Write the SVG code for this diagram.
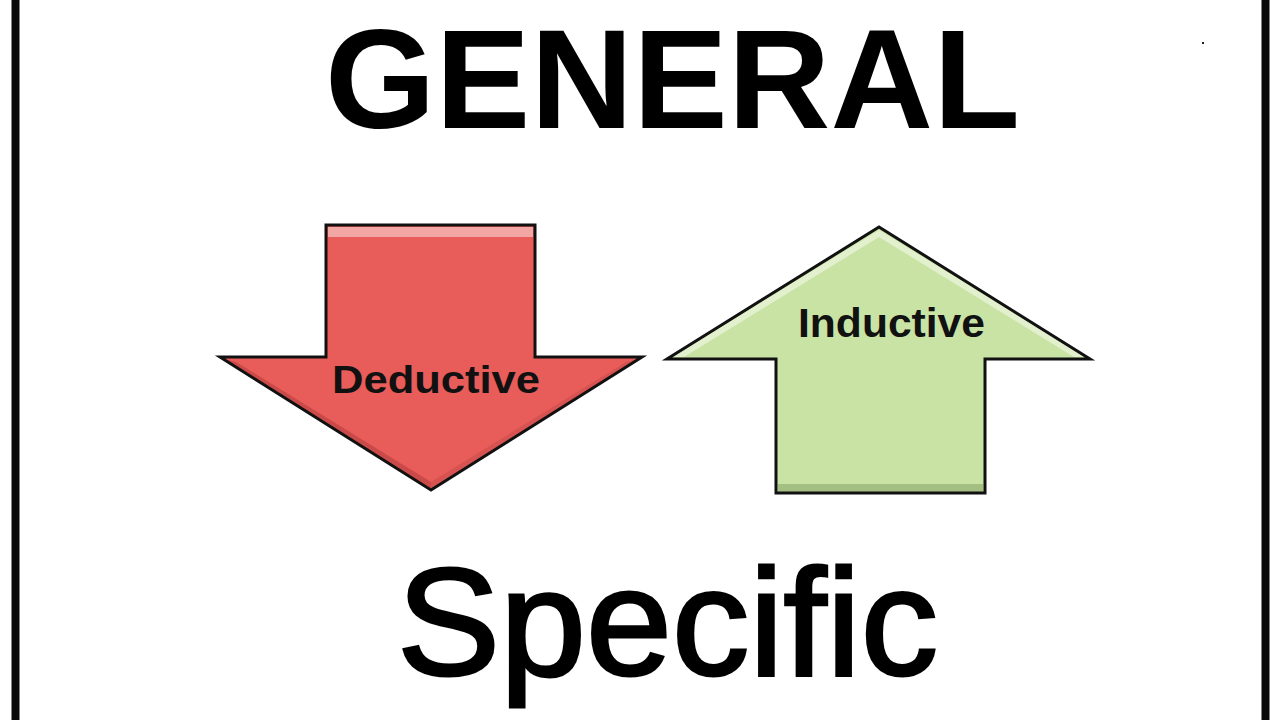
<svg xmlns="http://www.w3.org/2000/svg" width="1280" height="720" viewBox="0 0 1280 720">
  <style>
    .title { font-family: "Liberation Sans", Arial, sans-serif; fill: #000; }
    .label { font-family: "Liberation Sans", Arial, sans-serif; font-weight: 700; fill: #111; }
    .outline { stroke: #111; stroke-width: 3; stroke-linejoin: miter; }
    .border { stroke: #0a0a0a; stroke-width: 8; }
  </style>
  <rect x="0" y="0" width="1280" height="720" fill="#ffffff"/>

  <g id="frame">
    <line class="border" x1="15.5" y1="0" x2="15.5" y2="720"/>
    <line class="border" x1="1265.5" y1="0" x2="1265.5" y2="720"/>
    <rect x="1202" y="42" width="2" height="2" fill="#222"/>
  </g>

  <g id="general">
    <text class="title" x="325" y="127.5" font-size="141" font-weight="700" textLength="695" lengthAdjust="spacingAndGlyphs">GENERAL</text>
  </g>

  <g id="deductive">
    <polygon points="326,225 535,225 535,357 642,357 431,490 220,357 326,357" fill="#E85C5A"/>
    <rect x="328" y="227" width="205" height="10" fill="#F3A7A5"/>
    <polygon points="224,359 431,488 431,482 236,362" fill="#C94A48"/>
    <polygon points="638,359 431,488 431,482 626,362" fill="#D65352"/>
    <polygon class="outline" points="326,225 535,225 535,357 642,357 431,490 220,357 326,357" fill="none"/>
    <text class="label" x="332" y="393" font-size="39" textLength="208" lengthAdjust="spacingAndGlyphs">Deductive</text>
  </g>

  <g id="inductive">
    <polygon points="879,227 1090,359 985,359 985,493 776,493 776,359 667,359" fill="#C9E3A5"/>
    <polygon points="879,230 672,357 684,357 879,237" fill="#E2F0CE"/>
    <polygon points="879,230 1086,357 1074,357 879,237" fill="#E2F0CE"/>
    <rect x="778" y="484" width="205" height="8" fill="#A3C082"/>
    <polygon class="outline" points="879,227 1090,359 985,359 985,493 776,493 776,359 667,359" fill="none"/>
    <text class="label" x="798" y="337" font-size="41" textLength="187" lengthAdjust="spacingAndGlyphs">Inductive</text>
  </g>

  <g id="specific">
    <text class="title" x="397" y="675" font-size="152" stroke="#000" stroke-width="3" textLength="541" lengthAdjust="spacingAndGlyphs">Specific</text>
  </g>

  <g id="connectors"></g>
</svg>
